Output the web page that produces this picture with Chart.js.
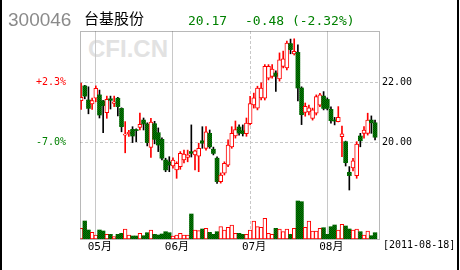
<!DOCTYPE html>
<html>
<head>
<meta charset="utf-8">
<script src="https://cdn.jsdelivr.net/npm/chart.js@4"></script>
<style>
  html, body { margin: 0; padding: 0; background: #fff; }
  #wrap { position: relative; width: 460px; height: 270px; overflow: hidden; }
  #wrap canvas { position: absolute; left: 0; top: 0; }
  .txt { position: absolute; white-space: nowrap; }
  .code { left: 8px; top: 10px; font: 19px/19px "Liberation Sans", Arial, sans-serif; color: #8a8a8a; }
  .name { left: 84px; top: 10px; font: 15px/15px "Noto Sans CJK SC", sans-serif; color: #000; }
  .quote { top: 14px; font: 13px/13px "DejaVu Sans Mono", monospace; color: #008000; }
  .wm { left: 88px; top: 37px; font: bold 24px/24px "Liberation Sans", Arial, sans-serif; color: #e2e2e2; }
  .date { left: 383px; top: 240px; font: 10px/10px "DejaVu Sans Mono", monospace; color: #000; }
  .edge { position: absolute; top: 0; width: 2px; height: 270px; background: #000; }
</style>
</head>
<body>
<div id="wrap">
  <div class="txt wm">CFI.CN</div>
  <canvas id="chart" width="460" height="270"></canvas>
  <div class="txt code">300046</div>
  <div class="txt name">台基股份</div>
  <div class="txt quote" style="left:188px">20.17</div>
  <div class="txt quote" style="left:245px">-0.48 (-2.32%)</div>
  <div class="txt date">[2011-08-18]</div>
  <div class="edge" style="left:0"></div>
  <div class="edge" style="left:457px"></div>
</div>
<script>
// daily prices, late April -> 2011-08-18
const opens = [21.39, 21.88, 21.41, 21.28, 21.47, 21.58, 21.38, 20.99, 21.45, 21.30,
  21.47, 21.13, 20.24, 20.28, 20.43, 20.41, 20.50, 20.74, 20.61, 19.83,
  20.62, 20.32, 20.10, 19.41, 19.35, 19.21, 19.08, 19.19, 19.41, 19.50,
  19.69, 19.58, 19.54, 20.05, 19.80, 20.30, 19.77, 19.47, 18.69, 18.97,
  19.24, 19.85, 20.21, 20.51, 20.39, 20.29, 20.62, 21.25, 21.14, 21.48,
  21.47, 22.14, 22.20, 22.31, 22.11, 22.53, 22.48, 23.29, 22.95, 23.00,
  21.81, 21.00, 21.01, 20.80, 20.97, 21.24, 21.54, 21.43, 21.10, 20.72,
  20.69, 20.19, 20.02, 19.00, 19.15, 18.89, 20.21, 20.30, 20.30, 20.74,
  20.65];
const highs = [21.97, 21.90, 21.85, 21.47, 21.88, 21.74, 21.40, 21.54, 21.54, 21.54,
  21.50, 21.15, 20.69, 20.40, 20.52, 20.45, 20.97, 20.81, 20.65, 20.80,
  20.70, 20.48, 20.15, 19.47, 19.52, 19.48, 19.35, 19.69, 19.74, 19.74,
  20.58, 19.74, 19.97, 20.52, 20.52, 20.41, 19.84, 19.52, 18.98, 19.35,
  20.08, 20.52, 20.71, 20.58, 20.58, 20.81, 21.53, 21.64, 21.87, 21.98,
  22.59, 22.59, 22.59, 22.38, 22.98, 23.04, 23.37, 23.44, 23.45, 23.25,
  21.85, 21.31, 21.24, 21.14, 21.58, 21.63, 21.69, 21.48, 21.18, 20.83,
  21.19, 20.54, 20.04, 19.19, 19.47, 20.02, 20.30, 20.52, 20.97, 20.88,
  20.74];
const lows = [21.10, 21.45, 20.95, 21.10, 21.35, 20.81, 20.32, 20.80, 21.11, 21.19,
  20.88, 20.35, 19.65, 20.20, 19.99, 20.02, 20.41, 20.41, 19.88, 19.50,
  19.95, 19.69, 19.41, 19.02, 19.02, 19.14, 18.80, 19.10, 19.31, 19.35,
  19.51, 19.08, 19.02, 19.80, 19.74, 19.80, 19.58, 18.63, 18.64, 18.91,
  19.19, 19.80, 20.14, 20.24, 20.21, 20.20, 20.58, 21.14, 21.08, 21.41,
  21.41, 22.08, 22.14, 21.70, 22.04, 22.48, 22.41, 22.95, 22.91, 21.38,
  20.59, 20.87, 20.91, 20.74, 20.91, 21.19, 21.08, 21.08, 20.64, 20.58,
  20.68, 19.52, 19.21, 18.41, 19.05, 18.80, 19.85, 20.14, 20.24, 20.30,
  20.08];
const closes = [21.50, 21.54, 21.13, 21.39, 21.80, 20.91, 21.22, 21.43, 21.40, 21.35,
  21.19, 20.52, 20.26, 20.34, 20.21, 20.39, 20.60, 20.61, 19.99, 20.67,
  20.10, 19.91, 19.47, 19.08, 19.24, 19.41, 19.30, 19.63, 19.61, 19.58,
  19.63, 19.72, 19.80, 19.97, 20.35, 19.85, 19.63, 18.69, 18.91, 19.30,
  19.91, 20.30, 20.42, 20.31, 20.29, 20.64, 21.29, 21.48, 21.81, 21.81,
  22.53, 22.53, 22.44, 22.20, 22.75, 22.78, 23.31, 23.09, 23.03, 21.81,
  20.92, 21.20, 21.15, 21.08, 21.52, 21.58, 21.13, 21.13, 20.72, 20.71,
  20.83, 20.28, 19.32, 18.89, 19.38, 19.94, 20.05, 20.41, 20.74, 20.65,
  20.17];
const volume = [10.7, 18, 9, 6.7, 4, 9, 8, 4.7, 4.7, 2.3,
  4.7, 5.7, 10, 4, 3, 3, 5.7, 3.3, 6.3, 9,
  4.7, 4, 5, 7.3, 6.3, 3, 4, 5.7, 4, 4,
  25, 9, 8.3, 10, 10.7, 6.7, 4.7, 7.3, 12.3, 9,
  11.7, 14, 5.7, 5.7, 4.7, 4.7, 9, 18, 12.3, 11.7,
  20.7, 5.7, 4.7, 10.7, 10, 7.3, 10, 4.7, 10.7, 38,
  37.3, 11.7, 18, 8, 8, 10.7, 11.3, 4.7, 12.3, 14,
  9, 14.7, 13, 10, 9, 10, 7.3, 4, 8, 3.3,
  6.3];

// month starts (candle index) and labels
const monthPos = [4, 25, 46, 67];
const monthLabels = ['05月', '06月', '07月', '08月'];
// price gridlines and their percent labels
const priceTicks = [20, 22];
const pctLabels = ['-7.0%', '+2.3%'];
const pctColors = ['#008000', '#ff0000'];

const RED = '#ff0000';
const monoFont = '"DejaVu Sans Mono", "Noto Sans CJK SC", monospace';

// dotted dark-green fill used for falling candles
const greenFill = (() => {
  const c = document.createElement('canvas');
  c.width = 2; c.height = 2;
  const g = c.getContext('2d');
  g.fillStyle = '#008800'; g.fillRect(0, 0, 2, 2);
  g.fillStyle = '#004400'; g.fillRect(0, 0, 1, 1); g.fillRect(1, 1, 1, 1);
  return g.createPattern(c, 'repeat');
})();

const idx = opens.map((_, i) => i);
const rising = idx.map(i => closes[i] > opens[i]);

// plot frame, dotted
const framePlugin = {
  id: 'frame',
  afterDraw(chart) {
    const { ctx, chartArea: a } = chart;
    ctx.save();
    ctx.strokeStyle = '#707070';
    ctx.lineWidth = 1;
    ctx.setLineDash([1, 1]);
    ctx.strokeRect(Math.round(a.left) + 0.5, Math.round(a.top) + 0.5,
      Math.round(a.width) - 1, Math.round(a.height));
    ctx.restore();
  }
};

const setTicks = values => scale => { scale.ticks = values.map(v => ({ value: v })); };

new Chart(document.getElementById('chart'), {
  type: 'bar',
  data: {
    datasets: [
      {
        label: 'body',
        data: idx.map(i => ({ x: i, y: [opens[i], closes[i]] })),
        yAxisID: 'y',
        barThickness: 4,
        minBarLength: 1,
        grouped: false,
        borderSkipped: false,
        backgroundColor: idx.map(i => rising[i] ? '#ffffff' : greenFill),
        borderColor: idx.map(i => rising[i] ? RED : '#008000'),
        borderWidth: idx.map(i => rising[i] ? 1 : 0),
        order: 0
      },
      {
        label: 'wick',
        data: idx.map(i => ({ x: i, y: [lows[i], highs[i]] })),
        yAxisID: 'y',
        barThickness: 1,
        grouped: false,
        backgroundColor: idx.map(i => rising[i] ? RED : '#000000'),
        borderWidth: 0,
        order: 1
      },
      {
        label: 'volume',
        data: idx.map(i => ({ x: i, y: volume[i] })),
        yAxisID: 'yv',
        barThickness: 3.7,
        grouped: false,
        borderSkipped: false,
        backgroundColor: idx.map(i => rising[i] ? '#ffffff' : greenFill),
        borderColor: idx.map(i => rising[i] ? RED : '#008000'),
        borderWidth: idx.map(i => rising[i] ? 1 : 0),
        order: 2
      }
    ]
  },
  options: {
    responsive: false,
    animation: false,
    layout: { padding: { top: 31, left: 0, right: 0, bottom: 0 } },
    plugins: { legend: { display: false }, tooltip: { enabled: false } },
    scales: {
      x: {
        type: 'linear',
        offset: false,
        min: -0.3,
        max: 81.35,
        afterBuildTicks: setTicks(monthPos),
        afterFit: s => { s.height = 31; },
        ticks: {
          callback: (v, i) => monthLabels[i],
          color: '#000',
          font: { family: monoFont, size: 11 },
          padding: 2,
          labelOffset: 4,
          maxRotation: 0,
          autoSkip: false
        },
        grid: { offset: false, color: '#c8c8c8', lineWidth: 1, drawTicks: false },
        border: { display: false, dash: ctx => (ctx.tick && ctx.tick.value === 46) ? [3, 2] : [] }
      },
      y: {
        position: 'right',
        min: 16.777,
        max: 23.71,
        afterBuildTicks: setTicks(priceTicks),
        afterFit: s => { s.width = 80; },
        ticks: {
          callback: v => v.toFixed(2),
          color: '#000',
          font: { family: monoFont, size: 10 },
          padding: 2
        },
        grid: { color: '#c8c8c8', lineWidth: 1, drawTicks: false },
        border: { display: false, dash: [3, 2] }
      },
      yl: {
        position: 'left',
        min: 16.777,
        max: 23.71,
        afterBuildTicks: setTicks(priceTicks),
        afterFit: s => { s.width = 80; },
        ticks: {
          callback: (v, i) => pctLabels[i],
          color: ctx => pctColors[ctx.index],
          font: { family: monoFont, size: 10 },
          padding: 6
        },
        grid: { display: false },
        border: { display: false }
      },
      yv: { display: false, min: 0, max: 208 }
    }
  },
  plugins: [framePlugin]
});
</script>
</body>
</html>
